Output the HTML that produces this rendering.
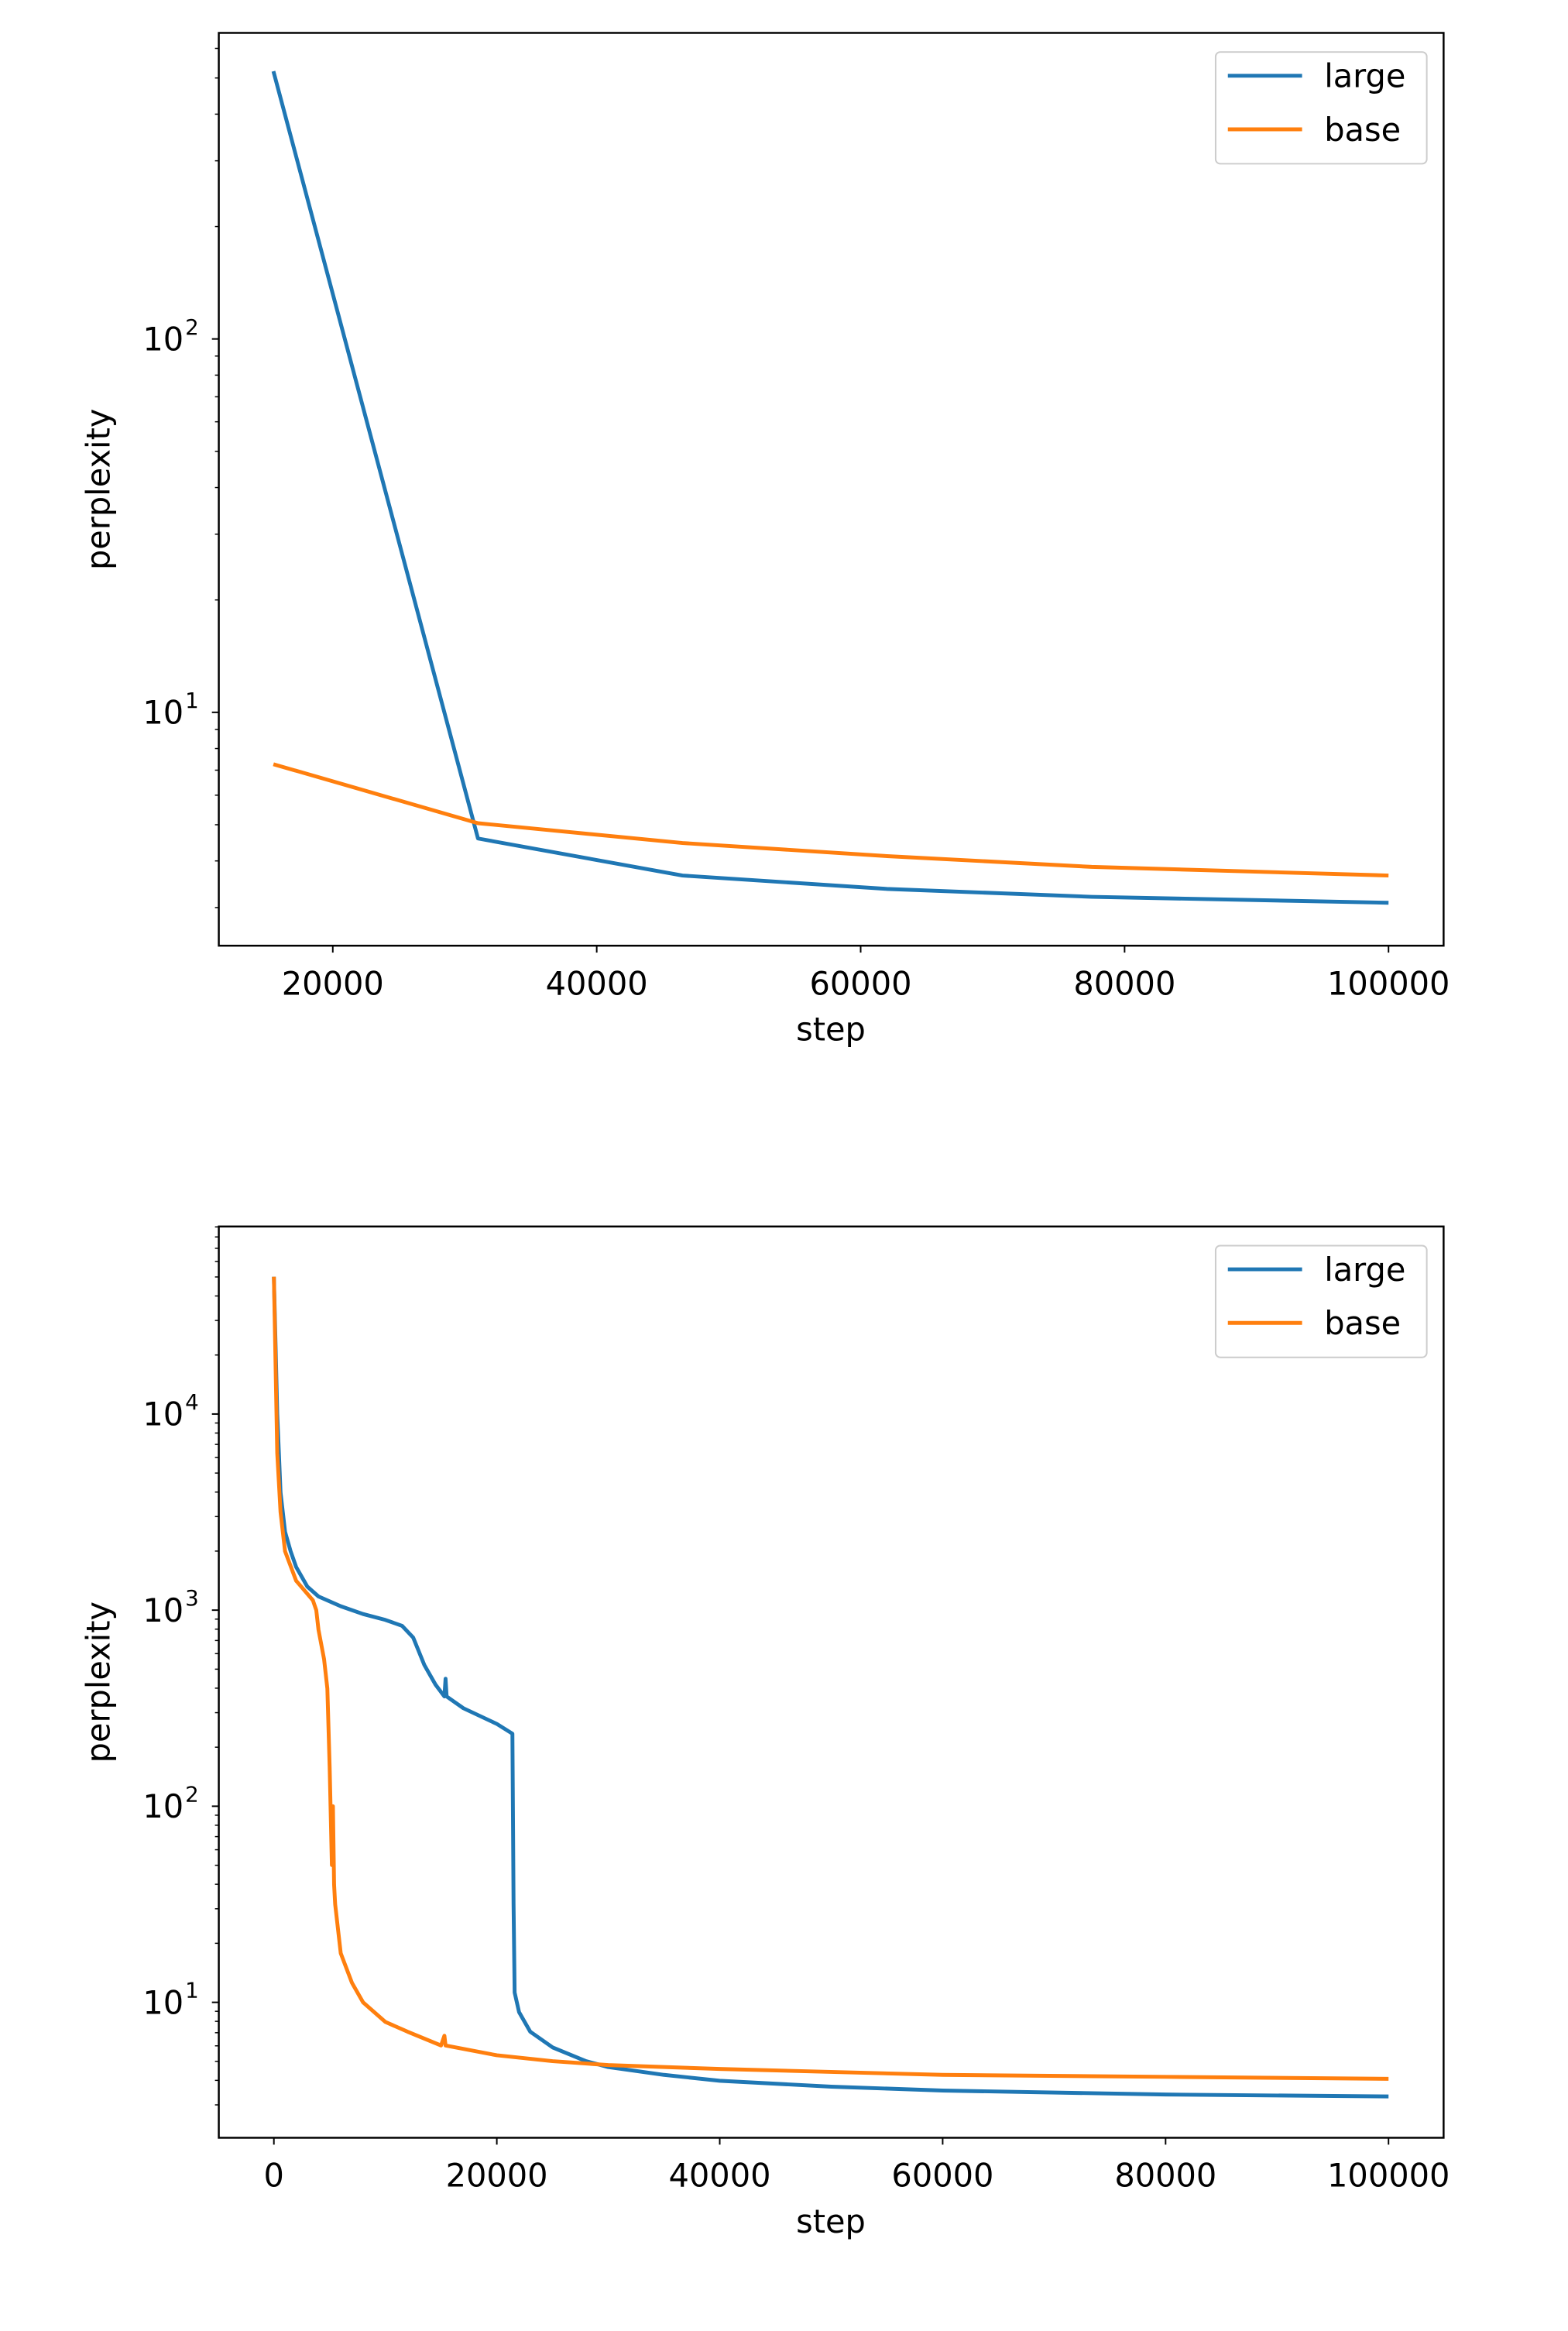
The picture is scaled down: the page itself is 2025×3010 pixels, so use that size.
<!DOCTYPE html>
<html><head><meta charset="utf-8"><style>
html,body{margin:0;padding:0;background:#fff;}
svg{display:block;}
text{font-family:"DejaVu Sans","Liberation Sans",sans-serif;fill:#000;}
</style></head><body>
<svg id="s" width="2025" height="3010" xmlns="http://www.w3.org/2000/svg">
<rect width="2025" height="3010" fill="#fff"/>
<g id="g" transform="scale(0.988)"></g>
</svg>
<script>
const NS="http://www.w3.org/2000/svg",g=document.getElementById('g');
function el(t,a,txt){const e=document.createElementNS(NS,t);for(const k in a)e.setAttribute(k,a[k]);if(txt!==undefined)e.textContent=txt;g.appendChild(e);return e;}
function axes(o){
 const X=v=>o.x0+(v-o.v0)*o.xs, Y=l=>o.y0-(l-o.l0)*o.ys;
 o.series.forEach(s=>{
  let d=s.pts.map((p,i)=>(i?'L':'M')+X(p[0]).toFixed(1)+' '+Y(p[1]).toFixed(1)).join(' ');
  el('path',{d:d,fill:'none',stroke:s.c,'stroke-width':5,'stroke-linejoin':'round'});
 });
 el('rect',{x:286,y:o.top,width:1601,height:o.bot-o.top,fill:'none',stroke:'#000','stroke-width':2.5});
 o.xt.forEach(v=>{const x=X(v);el('line',{x1:x,y1:o.bot,x2:x,y2:o.bot+9,stroke:'#000','stroke-width':2});
  el('text',{x:x,y:o.bot+64,'text-anchor':'middle','font-size':42},String(v));});
 el('text',{x:1086,y:o.bot+124,'text-anchor':'middle','font-size':42},'step');
 for(let dec=Math.floor(o.lmin);dec<=Math.ceil(o.lmax);dec++){
  for(let m=1;m<10;m++){const l=dec+Math.log10(m);if(l<o.lmin||l>o.lmax)continue;const y=Y(l);
   el('line',{x1:286,y1:y,x2:m==1?277:281,y2:y,stroke:'#000','stroke-width':m==1?2:1.5});
   if(m==1){el('text',{x:240,y:y+15,'text-anchor':'end','font-size':42},'10');
    el('text',{x:242,y:y-6,'font-size':28},String(dec));}
  }
 }
 el('text',{x:0,y:0,'text-anchor':'middle','font-size':42,transform:`translate(143 ${(o.top+o.bot)/2}) rotate(-90)`},'perplexity');
 const ly=o.top+25;
 el('rect',{x:1589,y:ly,width:276,height:146,rx:6,fill:'#fff',stroke:'#ccc','stroke-width':2});
 el('line',{x1:1605,y1:ly+31,x2:1702,y2:ly+31,stroke:'#1f77b4','stroke-width':5});
 el('line',{x1:1605,y1:ly+101,x2:1702,y2:ly+101,stroke:'#ff7f0e','stroke-width':5});
 el('text',{x:1731,y:ly+46,'font-size':42},'large');
 el('text',{x:1731,y:ly+116,'font-size':42},'base');
}
axes({x0:435,v0:20000,xs:1380/80000,y0:931,l0:1,ys:488,top:43,bot:1236,lmin:0.375,lmax:2.82,
 xt:[20000,40000,60000,80000,100000],
 series:[
 {c:'#1f77b4',pts:[[15500,2.717],[31000,0.662],[46500,0.563],[62000,0.527],[77500,0.506],[100000,0.49]]},
 {c:'#ff7f0e',pts:[[15500,0.861],[31000,0.703],[46500,0.65],[62000,0.615],[77500,0.586],[100000,0.563]]}
 ]});
axes({x0:358,v0:0,xs:1457/100000,y0:2617,l0:1,ys:256.3,top:1603,bot:2794,lmin:0.309,lmax:4.956,
 xt:[0,20000,40000,60000,80000,100000],
 series:[
 {c:'#1f77b4',pts:[[0,4.7],[300,4.0],[600,3.6],[1000,3.4],[1500,3.3],[2000,3.22],[3000,3.12],[4000,3.07],[6000,3.02],[8000,2.98],[10000,2.95],[11500,2.92],[12500,2.86],[13500,2.72],[14500,2.62],[15300,2.56],[15400,2.65],[15500,2.56],[17000,2.5],[20000,2.42],[21400,2.37],[21500,1.5],[21600,1.05],[22000,0.95],[23000,0.85],[25000,0.77],[28000,0.7],[30000,0.67],[35000,0.63],[40000,0.6],[50000,0.57],[60000,0.55],[80000,0.53],[100000,0.52]]},
 {c:'#ff7f0e',pts:[[0,4.7],[300,3.8],[600,3.5],[1000,3.3],[2000,3.15],[3500,3.05],[3800,3.0],[4000,2.9],[4500,2.75],[4800,2.6],[5000,2.2],[5200,1.7],[5300,2.0],[5400,1.6],[5500,1.5],[6000,1.25],[7000,1.1],[8000,1.0],[10000,0.9],[12000,0.85],[15000,0.78],[15300,0.83],[15400,0.78],[20000,0.73],[25000,0.7],[30000,0.68],[40000,0.66],[60000,0.63],[80000,0.62],[100000,0.61]]}
 ]});
</script>
</body></html>
